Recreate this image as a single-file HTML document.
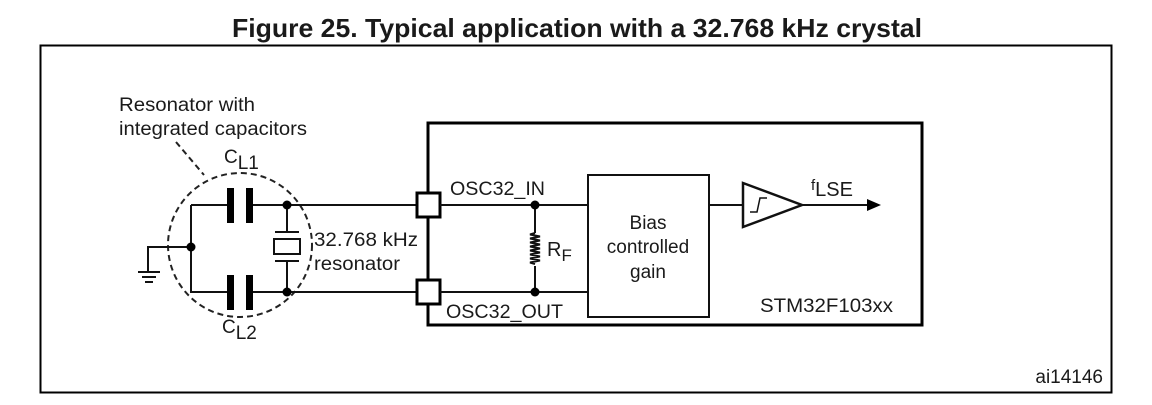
<!DOCTYPE html>
<html><head><style>
body{margin:0;background:#fff;width:1152px;height:405px;overflow:hidden}
svg{display:block}
text{font-family:"Liberation Sans",Arial,sans-serif;fill:#1a1a1a}
</style></head><body>
<svg width="1152" height="405" viewBox="0 0 1152 405">
<text x="577" y="37" text-anchor="middle" font-size="26" font-weight="bold" textLength="690" lengthAdjust="spacingAndGlyphs">Figure 25. Typical application with a 32.768 kHz crystal</text>
<rect x="40.5" y="45.5" width="1071" height="347" fill="none" stroke="#000" stroke-width="2"/>
<text x="119" y="111" font-size="19" textLength="136" lengthAdjust="spacingAndGlyphs">Resonator with</text>
<text x="119" y="135" font-size="19" textLength="188" lengthAdjust="spacingAndGlyphs">integrated capacitors</text>
<line x1="176" y1="142" x2="204" y2="175" stroke="#222" stroke-width="2" stroke-dasharray="6,4"/>
<ellipse cx="240" cy="245" rx="72" ry="72" fill="none" stroke="#222" stroke-width="2" stroke-dasharray="6,4"/>
<text x="224" y="163" font-size="19">C<tspan dy="6">L1</tspan></text>
<text x="222" y="333" font-size="19">C<tspan dy="6">L2</tspan></text>
<g stroke="#111" stroke-width="2" fill="none">
<path d="M191 205H230M250 205H417M191 205V292H230M250 292H417"/>
<path d="M191 247H148V272"/>
<path d="M138 272H160M142 277H156M145 282H153"/>
<path d="M287 205V232M287 261V292"/>
<rect x="274" y="239" width="26" height="15"/>
<path d="M275 232H299M275 261H299"/>
</g>
<rect x="227" y="188" width="7" height="35" fill="#000"/>
<rect x="246" y="188" width="7" height="35" fill="#000"/>
<rect x="227" y="275" width="7" height="35" fill="#000"/>
<rect x="246" y="275" width="7" height="35" fill="#000"/>
<circle cx="191" cy="247" r="4.5" fill="#000"/>
<circle cx="287" cy="205" r="4.5" fill="#000"/>
<circle cx="287" cy="292" r="4.5" fill="#000"/>
<text x="314" y="246" font-size="19" textLength="104" lengthAdjust="spacingAndGlyphs">32.768 kHz</text>
<text x="314" y="270" font-size="19" textLength="86" lengthAdjust="spacingAndGlyphs">resonator</text>
<rect x="428" y="123" width="494" height="202" fill="none" stroke="#000" stroke-width="3"/>
<rect x="417" y="193" width="23" height="24" fill="#fff" stroke="#000" stroke-width="3"/>
<rect x="417" y="280" width="23" height="24" fill="#fff" stroke="#000" stroke-width="3"/>
<text x="450" y="195" font-size="19" textLength="95" lengthAdjust="spacingAndGlyphs">OSC32_IN</text>
<text x="446" y="318" font-size="19" textLength="117" lengthAdjust="spacingAndGlyphs">OSC32_OUT</text>
<g stroke="#111" stroke-width="2" fill="none">
<path d="M440 205H588M440 292H588M535 205V233M535 266V292"/>
<path d="M535 233l-5 1.5l10 2l-10 2l10 2l-10 2l10 2l-10 2l10 2l-10 2l10 2l-10 2l10 2l-10 2l10 2l-10 2l5 1.5"/>
<rect x="588" y="175" width="121" height="142"/>
<path d="M709 205H743M802 205H870"/>
<path d="M743 183V227L802 205Z" stroke-width="2.5"/>
<path d="M750 212H757L760 198H767" stroke-width="1.5"/>
</g>
<path d="M867 199L881 205L867 211Z" fill="#000"/>
<circle cx="535" cy="205" r="4.5" fill="#000"/>
<circle cx="535" cy="292" r="4.5" fill="#000"/>
<text x="547" y="256" font-size="20">R<tspan font-size="17" dy="5">F</tspan></text>
<text x="648" y="229" font-size="19" text-anchor="middle">Bias</text>
<text x="648" y="253" font-size="19" text-anchor="middle">controlled</text>
<text x="648" y="278" font-size="19" text-anchor="middle">gain</text>
<text x="811" y="190" font-size="15">f<tspan font-size="20" dy="6">LSE</tspan></text>
<text x="760" y="312" font-size="19" textLength="133" lengthAdjust="spacingAndGlyphs">STM32F103xx</text>
<text x="1103" y="383" font-size="19" text-anchor="end">ai14146</text>
</svg>
</body></html>
